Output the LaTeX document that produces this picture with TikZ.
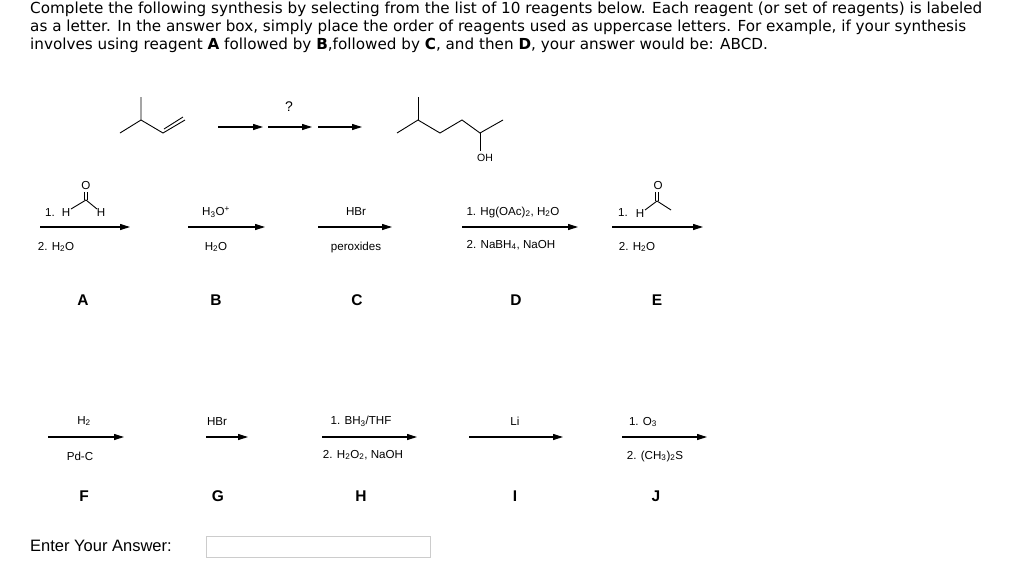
\documentclass[tikz,border=0pt]{standalone}
\usepackage{fontspec}
\setmainfont{Liberation Sans}
\newfontfamily\hdr{DejaVu Sans}
\usetikzlibrary{arrows.meta}
\begin{document}
\begin{tikzpicture}[x=1pt,y=-1pt,
  rx/.style={line width=1.1pt,-{Triangle[length=10pt,width=6pt]}},
  bond/.style={line width=0.9pt},
  rg/.style={font=\fontsize{11.6}{13}\selectfont},
  lt/.style={font=\fontsize{15.5}{16}\selectfont\bfseries},
  hd/.style={font=\hdr\fontsize{15.2}{16}\selectfont,anchor=north west,inner sep=0pt}]
\useasboundingbox (0,0) rectangle (1024,571);
\node[hd] (h1) at (30,2) {Complete the following synthesis by selecting from the list of 10 reagents below. Each reagent (or set of reagents) is labeled};
\node[hd] (h2) at (30,20) {as a letter. In the answer box, simply place the order of reagents used as uppercase letters. For example, if your synthesis};
\node[hd] (h3) at (30,38) {involves using reagent \textbf{A} followed by \textbf{B},followed by \textbf{C}, and then \textbf{D}, your answer would be: ABCD.};
% start molecule
\draw[bond] (120,133) -- (141,120) -- (141,97) (141,120) -- (163,133) -- (185,120);
\draw[bond] (164,129) -- (183,117);
% arrows
\coordinate (a1) at (218,127); \coordinate (a2) at (263,127);
\coordinate (a3) at (268,127); \coordinate (a4) at (312,127);
\coordinate (a5) at (318,127); \coordinate (a6) at (362,127);
\draw[rx] (a1) -- (a2); \draw[rx] (a3) -- (a4); \draw[rx] (a5) -- (a6);
\node[font=\fontsize{14}{15}\selectfont] (q) at (289,107) {?};
% product
\draw[bond] (397,133) -- (418,120) -- (440,133) -- (462,120) -- (480,133) -- (503,120);
\draw[bond] (418,120) -- (418,97);
\draw[bond] (480,133) -- (480,151);
\node[font=\fontsize{10.5}{11}\selectfont] (oh) at (485,158) {OH};
% row 1
\draw[rx] (40,227) -- (130,227);
\node[rg] (Ah1) at (50,213) {1.};
\node[rg] (Ah2) at (66,213) {H};
\node[rg] (Ah3) at (101,213) {H};
\node[rg] (Ao) at (86,186) {O};
\draw[bond] (71,209) -- (86,200) -- (97,209);
\draw[bond] (84.5,200) -- (84.5,192) (87.5,200) -- (87.5,192);
\node[rg] (Ab) at (56,247) {2. H\textsubscript{2}O};
\node[lt] (A) at (83,300) {A};

\draw[rx] (188,227) -- (265,227);
\node[rg] (Bt) at (216,212) {H\textsubscript{3}O\textsuperscript{+}};
\node[rg] (Bb) at (216,247) {H\textsubscript{2}O};
\node[lt] (B) at (216,300) {B};

\draw[rx] (318,227) -- (392,227);
\node[rg] (Ct) at (356,212) {HBr};
\node[rg] (Cb) at (356,247) {peroxides};
\node[lt] (C) at (357,300) {C};

\draw[rx] (462,227) -- (578,227);
\node[rg] (Dt) at (513,212) {1. Hg(OAc)\textsubscript{2}, H\textsubscript{2}O};
\node[rg] (Db) at (511,245) {2. NaBH\textsubscript{4}, NaOH};
\node[lt] (D) at (516,300) {D};

\draw[rx] (612,227) -- (703,227);
\node[rg] (Et1) at (623,213) {1.};
\node[rg] (Et2) at (640,214) {H};
\node[rg] (Eo) at (658,186) {O};
\draw[bond] (645,210) -- (657,201) -- (671,210);
\draw[bond] (655.5,201) -- (655.5,192) (658.5,201) -- (658.5,192);
\node[rg] (Eb) at (637,247) {2. H\textsubscript{2}O};
\node[lt] (E) at (657,300) {E};
% row 2
\draw[rx] (48,437) -- (124,437);
\node[rg] (Ft) at (84,421) {H\textsubscript{2}};
\node[rg] (Fb) at (80,456) {Pd-C};
\node[lt] (F) at (84,496) {F};

\draw[rx] (206,437) -- (248,437);
\node[rg] (Gt) at (217,421) {HBr};
\node[lt] (G) at (218,496) {G};

\draw[rx] (322,437) -- (417,437);
\node[rg] (Ht) at (361,421) {1. BH\textsubscript{3}/THF};
\node[rg] (Hb) at (363,455) {2. H\textsubscript{2}O\textsubscript{2}, NaOH};
\node[lt] (H) at (361,496) {H};

\draw[rx] (469,437) -- (563,437);
\node[rg] (It) at (515,421) {Li};
\node[lt] (I) at (515,496) {I};

\draw[rx] (622,437) -- (707,437);
\node[rg] (Jt) at (643,422) {1. O\textsubscript{3}};
\node[rg] (Jb) at (655,456) {2. (CH\textsubscript{3})\textsubscript{2}S};
\node[lt] (J) at (656,496) {J};

\node[font=\fontsize{16.5}{17}\selectfont,anchor=west,inner sep=0pt] (ea) at (30,546) {Enter Your Answer:};
\draw[gray!40,line width=0.7pt] (206,536) rectangle (430,557);
\end{tikzpicture}
\end{document}
